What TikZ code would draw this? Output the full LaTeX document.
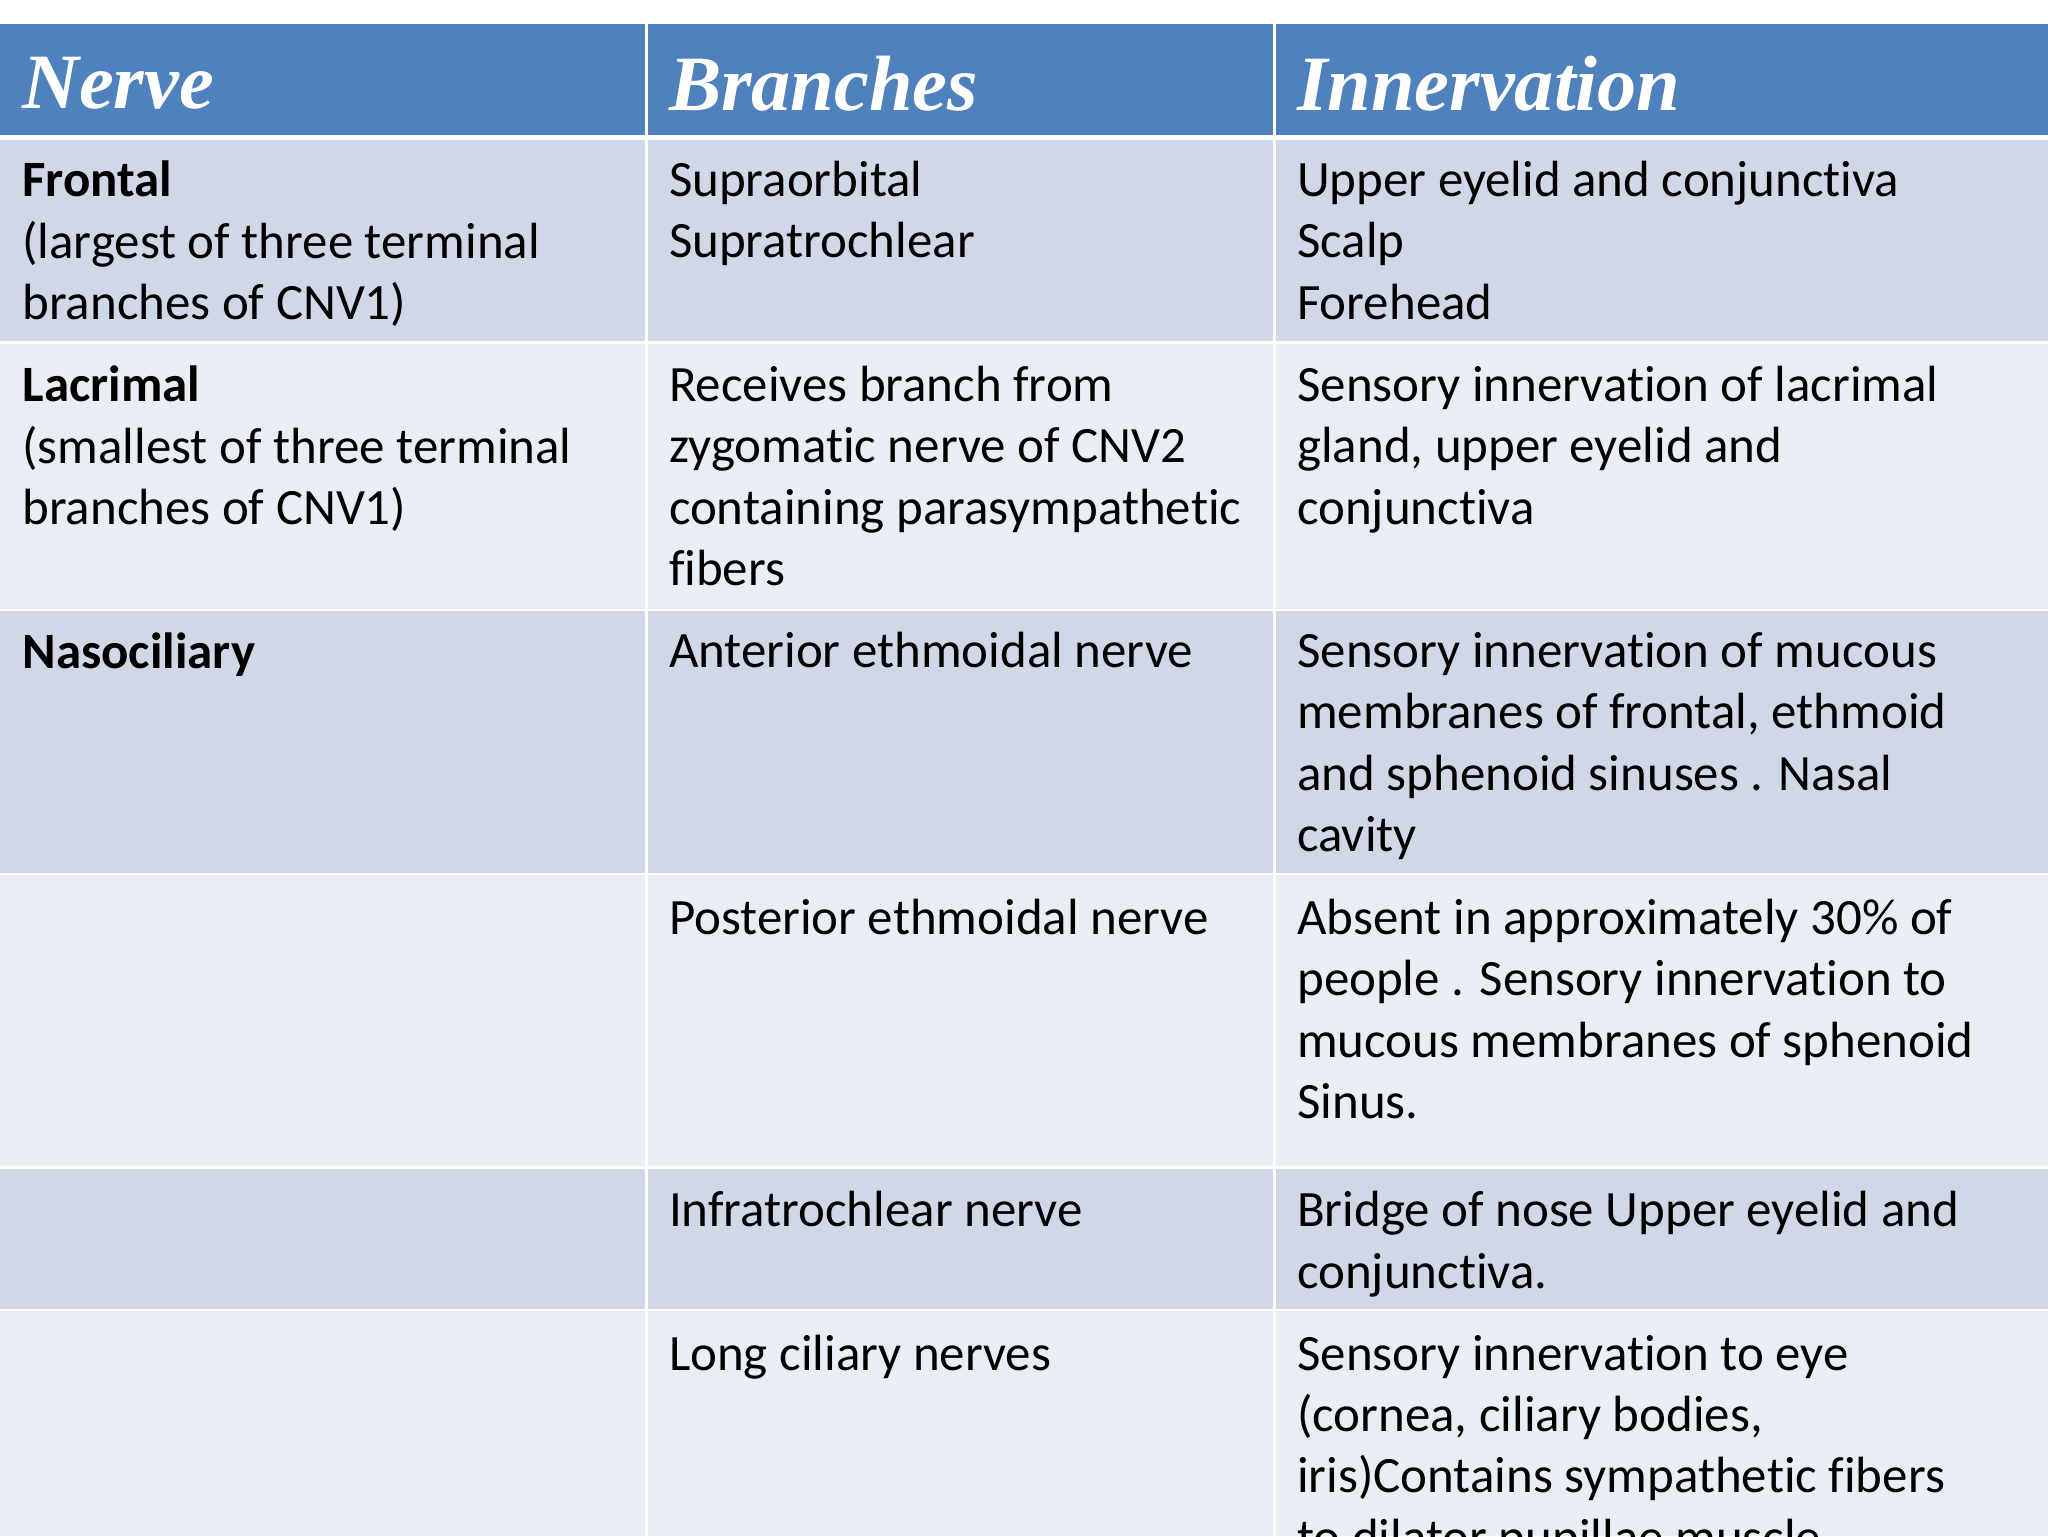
\documentclass[tikz,border=0pt]{standalone}
\usepackage{fontspec}
\setmainfont[RawFeature=-liga]{Carlito}
\newfontfamily\headfont{Liberation Serif}
\definecolor{hdr}{HTML}{4F81BD}
\definecolor{dark}{HTML}{D0D8E8}
\definecolor{light}{HTML}{E9EDF4}
\begin{document}
\begin{tikzpicture}[x=1pt,y=-1pt,
  cell/.style={anchor=north west,align=left,inner sep=0pt,font=\fontsize{39}{47}\selectfont},
  head/.style={anchor=west,inner sep=0pt,text=white,font=\headfont\bfseries\itshape\fontsize{60}{60}\selectfont}]
\useasboundingbox (0,0) rectangle (1568,1176);
\clip (0,0) rectangle (1568,1176);
\fill[white] (0,0) rectangle (1568,1176);
% header
\foreach \a/\b in {0/494,496/975,977/1568}{\fill[hdr] (\a,18) rectangle (\b,103);}
% rows
\foreach \t/\bt/\c in {107/261/dark,263/466/light,468/668/dark,670/893/light,895/1002/dark,1004/1176/light}{
  \foreach \a/\b in {0/494,496/975,977/1568}{\fill[\c] (\a,\t) rectangle (\b,\bt);}}
\node[head] (h1) at (17,64) {Nerve};
\node[head] (h2) at (512,64) {Branches};
\node[head] (h3) at (993,64) {Innervation};
% row 1
\node[cell] (a1) at (17,123) {\textbf{Frontal}\\(largest of three terminal\\branches of CNV1)};
\node[cell] (b1) at (512,123) {Supraorbital\\Supratrochlear};
\node[cell] (c1) at (993,123) {Upper eyelid and conjunctiva\\Scalp\\Forehead};
% row 2
\node[cell] (a2) at (17,280) {\textbf{Lacrimal}\\(smallest of three terminal\\branches of CNV1)};
\node[cell] (b2) at (512,280) {Receives branch from\\zygomatic nerve of CNV2\\containing parasympathetic\\fibers};
\node[cell] (c2) at (993,280) {Sensory innervation of lacrimal\\gland, upper eyelid and\\conjunctiva};
% row 3
\node[cell] (a3) at (17,484) {\textbf{Nasociliary}};
\node[cell] (b3) at (512,484) {Anterior ethmoidal nerve};
\node[cell] (c3) at (993,484) {Sensory innervation of mucous\\membranes of frontal, ethmoid\\and sphenoid sinuses . Nasal\\cavity};
% row 4
\node[cell] (b4) at (512,688) {Posterior ethmoidal nerve};
\node[cell] (c4) at (993,688) {Absent in approximately 30\% of\\people . Sensory innervation to\\mucous membranes of sphenoid\\Sinus.};
% row 5
\node[cell] (b5) at (512,912) {Infratrochlear nerve};
\node[cell] (c5) at (993,912) {Bridge of nose Upper eyelid and\\conjunctiva.};
% row 6
\node[cell] (b6) at (512,1022) {Long ciliary nerves};
\node[cell] (c6) at (993,1022) {Sensory innervation to eye\\(cornea, ciliary bodies,\\iris)Contains sympathetic fibers\\to dilator pupillae muscle};
\end{tikzpicture}
\end{document}
